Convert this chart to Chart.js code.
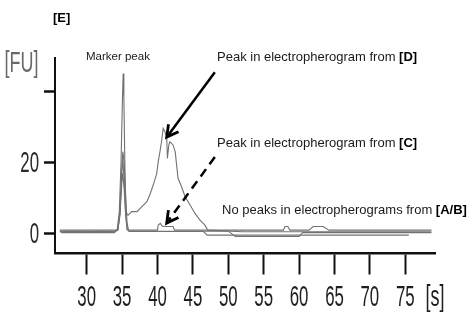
<!DOCTYPE html>
<html><head><meta charset="utf-8">
<script src="https://cdn.jsdelivr.net/npm/chart.js@4.4.1/dist/chart.umd.min.js"></script>
<style>html,body{margin:0;padding:0;background:#fff;}#wrap{width:474px;height:327px;position:relative;}</style>
</head><body><div id="wrap"><canvas id="c" width="474" height="327"></canvas></div>
<script>
// ---- tick labels ----
const xTickValues = [30, 35, 40, 45, 50, 55, 60, 65, 70, 75];
const xTickLabels = ['30', '35', '40', '45', '50', '55', '60', '65', '70', '75'];
const yTickValues = [0, 20, 40];
const yTickLabels = ['0', '20', ''];
const xUnit = '[s]';
const yUnit = '[FU]';

// ---- series (time in s, fluorescence in FU) ----
const dTime = [26.2,28.0,30.0,32.0,33.9,34.3,34.6,34.85,35.05,35.15,35.25,35.4,35.55,35.7,35.9,36.35,37.1,37.8,38.5,38.9,39.4,39.9,40.1,40.35,40.6,40.8,41.05,41.3,41.4,41.6,41.75,42.2,42.5,42.7,42.9,43.4,43.9,44.6,45.3,46.0,46.7,47.1,52.0,58.0,64.0,70.0,78.7];
const dSignal = [0.4,0.6,0.4,0.6,0.4,1.0,6.0,20.0,38.0,45.0,38.0,18.0,7.0,5.2,5.2,6.1,6.1,7.5,8.9,10.8,13.6,16.9,20.2,23.0,26.3,29.6,28.6,27.2,21.1,24.9,25.8,24.9,23.0,19.2,15.5,13.1,10.3,8.0,5.6,3.7,2.3,0.9,0.45,0.45,0.45,0.45,0.45];

const cTime = [26.2,29.0,31.0,33.9,34.4,34.7,34.95,35.1,35.3,35.5,35.7,35.9,38.0,40.0,40.1,40.4,40.6,40.8,42.2,42.4,46.0,52.0,57.8,58.0,58.4,58.7,61.4,62.0,63.4,64.2,68.0,74.0,78.7];
const cSignal = [0.9,0.9,0.9,0.9,1.0,6.0,18.0,23.0,20.0,10.0,3.0,0.9,0.9,0.9,2.3,2.8,2.2,1.9,1.9,0.9,0.9,0.9,0.9,1.9,1.9,0.9,0.9,1.9,1.9,0.9,0.9,0.9,0.9];

const aTime = [26.4,30.0,33.9,34.4,34.7,34.95,35.1,35.3,35.5,35.7,36.0,42.0,46.5,47.0,55.0,60.0,65.0,70.0,75.5];
const aSignal = [0.2,0.2,0.2,1.0,6.0,17.0,21.0,15.0,6.0,1.5,0.5,0.5,0.5,-0.5,-0.5,-0.5,-0.5,-0.5,-0.5];

const bTime = [26.2,30.0,33.9,34.4,34.7,34.95,35.1,35.3,35.5,35.7,36.0,44.0,50.0,51.0,60.0,60.5,70.0,78.7];
const bSignal = [0.6,0.6,0.6,1.0,5.0,14.0,17.0,12.0,5.0,1.0,0.6,0.6,0.6,-0.9,-0.9,0.2,0.2,0.2];

const seriesNames = ['D', 'C', 'A', 'B'];

// ---- annotations ----
const panelLabel = '[E]';
const markerText = 'Marker peak';
const noteD = ['Peak in electropherogram from ', '[D]'];
const noteC = ['Peak in electropherogram from ', '[C]'];
const noteAB = ['No peaks in electropherograms from ', '[A/B]'];
const arrowD = {from: [48.1, 45.4], to: [41.3, 27.1]};
const arrowC = {from: [48.1, 21.5], to: [41.3, 2.9]};

function pts(t, v) { return t.map((x, i) => ({x: x, y: v[i]})); }

const traceColor = '#727272';
function ds(name, t, v) {
  return {label: 'Sample ' + name, data: pts(t, v), borderColor: traceColor, borderWidth: 1.1,
          pointRadius: 0, tension: 0, fill: false};
}

const FONT = '"Liberation Sans", Arial, sans-serif';
function condText(ctx, text, x, y, size, sx, align, color) {
  ctx.save();
  ctx.font = size + 'px ' + FONT;
  ctx.fillStyle = color;
  ctx.textBaseline = 'middle';
  ctx.textAlign = align;
  ctx.translate(x, y);
  ctx.scale(sx, 1);
  ctx.fillText(text, 0, 0);
  ctx.restore();
}
function mixedText(ctx, parts, x, y, size) {
  ctx.save();
  ctx.textBaseline = 'middle';
  ctx.textAlign = 'left';
  ctx.fillStyle = '#1a1a1a';
  ctx.font = size + 'px ' + FONT;
  ctx.fillText(parts[0], x, y);
  const w = ctx.measureText(parts[0]).width;
  ctx.font = 'bold ' + size + 'px ' + FONT;
  ctx.fillStyle = '#000';
  ctx.fillText(parts[1], x + w, y);
  ctx.restore();
}
function arrow(ctx, xs, ys, a, dashed) {
  const x1 = xs.getPixelForValue(a.from[0]), y1 = ys.getPixelForValue(a.from[1]);
  const x2 = xs.getPixelForValue(a.to[0]), y2 = ys.getPixelForValue(a.to[1]);
  ctx.save();
  ctx.strokeStyle = '#000';
  ctx.lineWidth = 2.5;
  ctx.lineCap = 'butt';
  if (dashed) ctx.setLineDash([9, 6]);
  ctx.beginPath(); ctx.moveTo(x1, y1); ctx.lineTo(x2, y2); ctx.stroke();
  ctx.setLineDash([]);
  const ang = Math.atan2(y2 - y1, x2 - x1);
  const L = 13, sp = 0.5;
  ctx.lineWidth = 2.8;
  ctx.beginPath();
  ctx.moveTo(x2 - L * Math.cos(ang - sp), y2 - L * Math.sin(ang - sp));
  ctx.lineTo(x2, y2);
  ctx.lineTo(x2 - L * Math.cos(ang + sp), y2 - L * Math.sin(ang + sp));
  ctx.stroke();
  ctx.restore();
}

const decor = {
  id: 'decor',
  afterDraw(chart) {
    const ctx = chart.ctx;
    const xs = chart.scales.x, ys = chart.scales.y;
    xs.ticks.forEach((t, i) => {
      condText(ctx, xTickLabels[i], xs.getPixelForValue(t.value), 298, 30, 0.56, 'center', '#1e1e1e');
    });
    condText(ctx, xUnit, 435, 298, 30, 0.6, 'center', '#1e1e1e');
    ys.ticks.forEach((t, i) => {
      if (yTickLabels[i]) condText(ctx, yTickLabels[i], 39, ys.getPixelForValue(t.value) + 1.5, 30, 0.56, 'right', '#2a2a2a');
    });
    condText(ctx, yUnit, 21.5, 64, 30, 0.6, 'center', '#6a6a6a');
    ctx.save();
    ctx.font = 'bold 13px ' + FONT; ctx.fillStyle = '#000'; ctx.textBaseline = 'middle';
    ctx.fillText(panelLabel, 53, 18.5);
    ctx.font = '11.5px ' + FONT; ctx.fillStyle = '#1a1a1a';
    ctx.fillText(markerText, 86, 57);
    ctx.restore();
    mixedText(ctx, noteD, 217, 57, 13);
    mixedText(ctx, noteC, 217, 143, 13);
    mixedText(ctx, noteAB, 222, 210, 13);
    arrow(ctx, xs, ys, arrowD, false);
    arrow(ctx, xs, ys, arrowC, true);
  }
};

new Chart(document.getElementById('c'), {
  type: 'line',
  data: {
    datasets: [
      ds(seriesNames[0], dTime, dSignal),
      ds(seriesNames[1], cTime, cSignal),
      ds(seriesNames[2], aTime, aSignal),
      ds(seriesNames[3], bTime, bSignal)
    ]
  },
  options: {
    responsive: false,
    animation: false,
    layout: {padding: {top: 58, right: 39, left: 0, bottom: 0}},
    plugins: {legend: {display: false}, tooltip: {enabled: false}},
    scales: {
      x: {
        type: 'linear', min: 25.52, max: 79.2, position: 'bottom',
        afterBuildTicks: s => { s.ticks = xTickValues.map(v => ({value: v})); },
        afterFit: s => { s.height = 73.5; },
        grid: {drawOnChartArea: false, drawTicks: true, tickLength: 21, tickWidth: 2, tickColor: '#111'},
        border: {display: true, color: '#111', width: 2.5},
        ticks: {display: false}
      },
      y: {
        type: 'linear', min: -5.69, max: 49.4,
        afterBuildTicks: s => { s.ticks = yTickValues.map(v => ({value: v})); },
        afterFit: s => { s.width = 55; },
        grid: {drawOnChartArea: false, drawTicks: true, tickLength: 11, tickWidth: 2.5, tickColor: '#111'},
        border: {display: true, color: '#111', width: 2},
        ticks: {display: false}
      }
    }
  },
  plugins: [decor]
});
</script>
</body></html>
